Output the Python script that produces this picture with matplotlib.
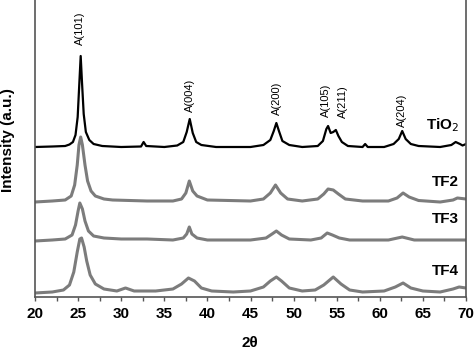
import matplotlib
matplotlib.use("Agg")
import matplotlib.pyplot as plt
from matplotlib.ticker import MultipleLocator

plt.rcParams['font.family'] = ['Liberation Sans', 'DejaVu Sans']

# XRD patterns (2theta, intensity in a.u., curves already offset)
tio2_x = [20, 22, 23.5, 24.0, 24.4, 24.7, 24.95, 25.15, 25.3, 25.45, 25.65, 25.9, 26.3,
          26.8, 27.8, 30, 32.3, 32.6, 32.9, 35, 36.5, 37.2, 37.6, 37.95, 38.3, 38.7,
          39.3, 41, 45, 46.5, 47.3, 47.7, 48.0, 48.3, 48.7, 49.5, 51, 52.8, 53.4,
          53.8, 54.0, 54.3, 54.6, 54.9, 55.2, 55.6, 56.3, 58, 58.3, 58.6, 60.5, 61.6,
          62.2, 62.6, 63.0, 63.6, 64.5, 67, 68.3, 68.8, 69.3, 69.6, 70]
tio2_y = [150, 150.5, 151, 152.5, 155, 162, 180, 215, 241, 215, 183, 165, 157,
          153, 151, 150, 150.5, 155, 151, 150, 151.5, 155, 165, 178, 164, 155,
          152, 150, 150, 152, 157, 166, 174, 166, 156, 152, 150, 151, 156,
          168, 171, 164, 165, 167, 161, 155, 151, 150, 153, 150, 150, 153,
          158, 166, 158, 153, 151, 150, 152, 155, 153, 151.5, 153]

tf2_x = [20, 22, 23.5, 24.2, 24.6, 24.9, 25.1, 25.3, 25.5, 25.8, 26.1, 26.5, 27, 28,
         29, 33, 36, 37.0, 37.5, 37.9, 38.3, 38.8, 40, 45, 46.5, 47.3, 47.9, 48.5,
         49.3, 51, 52.8, 53.5, 54.0, 54.6, 55.2, 56, 58, 61, 62, 62.7, 63.4, 64.5,
         67, 68.5, 69, 70]
tf2_y = [95, 96, 97, 101, 112, 132, 152, 160, 152, 132, 116, 106, 101, 98,
         97, 96, 96, 98, 104, 116, 106, 101, 97, 96, 98, 104, 112, 104,
         98, 96, 98, 103, 108, 107, 103, 98, 96, 96, 99, 104, 100, 96.5,
         95, 97, 99, 98]

tf3_x = [20, 22, 23.5, 24.3, 24.7, 25.0, 25.2, 25.5, 25.8, 26.2, 26.8, 28, 30, 33,
         36, 37.2, 37.6, 37.9, 38.2, 38.8, 40, 45, 46.8, 47.5, 48.0, 48.6, 49.5, 52,
         53.2, 53.9, 54.5, 55.3, 56.5, 61, 62.6, 64, 70]
tf3_y = [56, 57, 58, 62, 72, 86, 94, 88, 76, 66, 61, 59, 58, 58,
         57, 59, 63, 70, 63, 59, 57, 57, 59, 63, 66, 62, 58, 57,
         59, 64, 62, 59, 57, 57, 60, 57, 57]

tf4_x = [20, 22, 23.3, 24.0, 24.5, 24.9, 25.2, 25.4, 25.7, 26.0, 26.4, 27, 28, 29.5,
         30.5, 31.5, 34, 36, 37.0, 37.8, 38.5, 39.3, 40.5, 43, 45, 46.5, 47.3, 48.0,
         48.6, 49.5, 51, 52.5, 53.5, 54.6, 55.5, 56.5, 58, 60.5, 61.8, 62.7, 63.6,
         65, 67, 68.5, 69.2, 70]
tf4_y = [4, 5, 7, 12, 25, 45, 58, 59, 50, 36, 22, 13, 8, 6,
         9, 6, 6, 8, 13, 19, 16, 9, 6, 5, 6, 10, 16, 20,
         16, 9, 6, 7, 12, 20, 13, 7, 5, 6, 10, 14, 9,
         6, 5, 8, 10, 9]

peak_labels = ['A(101)', 'A(004)', 'A(200)', 'A(105)', 'A(211)', 'A(204)']
peak_pos = [25.2, 38.0, 48.1, 53.8, 55.7, 62.6]
peak_label_y = [252, 185, 182, 180, 179, 170]

series_names = ['TiO$_2$', 'TF2', 'TF3', 'TF4']
series_label_y = [172, 115, 78, 26]

fig = plt.figure(figsize=(4.74, 3.51), dpi=100)
ax = fig.add_axes([35 / 474, 1 - 297 / 351, 431 / 474, 297 / 351])

ax.plot(tio2_x, tio2_y, color='black', lw=1.6)
ax.plot(tf2_x, tf2_y, color='#7c7c7c', lw=2.2)
ax.plot(tf3_x, tf3_y, color='#7c7c7c', lw=2.2)
ax.plot(tf4_x, tf4_y, color='#7c7c7c', lw=2.2)

for lab, x, y in zip(peak_labels, peak_pos, peak_label_y):
    ax.text(x, y, lab, rotation=90, ha='center', va='bottom', fontsize=8)

for name, y in zip(series_names, series_label_y):
    ax.text(69.2, y, name, ha='right', va='center', fontsize=11, fontweight='bold')

ax.set_xlim(20, 70)
ax.set_ylim(0, 297)
ax.set_yticks([])
ax.xaxis.set_major_locator(MultipleLocator(5))
ax.xaxis.set_minor_locator(MultipleLocator(2.5))
ax.tick_params(axis='x', which='both', direction='out', length=3, width=1,
               color='#555555', labelsize=11, pad=4)
for lab in ax.get_xticklabels():
    lab.set_fontweight('bold')
ax.spines['top'].set_visible(False)
for s in ['left', 'right', 'bottom']:
    ax.spines[s].set_color('#555555')
    ax.spines[s].set_linewidth(1.2)

fig.text(8 / 474, 1 - 140 / 351, 'Intensity (a.u.)', rotation=90, ha='center',
         va='center', fontsize=11, fontweight='bold')
fig.text(250 / 474, 1 - 343 / 351, '2θ', ha='center', va='center',
         fontsize=11, fontweight='bold')

fig.savefig('out.png', dpi=100)
